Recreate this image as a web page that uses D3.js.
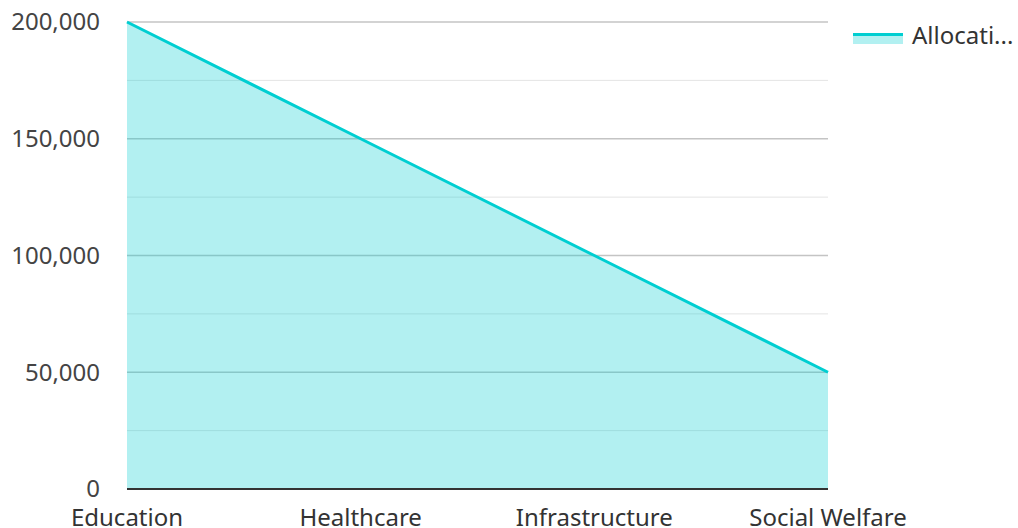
<!DOCTYPE html>
<html>
<head>
<meta charset="utf-8">
<script src="https://cdn.jsdelivr.net/npm/d3@7"></script>
<style>
  body { margin: 0; background: #fff; }
  svg { font-family: "Noto Sans", "Open Sans", sans-serif; }
</style>
</head>
<body>
<svg id="chart" width="1018" height="528"></svg>
<script>
const categories = ["Education", "Healthcare", "Infrastructure", "Social Welfare"];
const allocation = [200000, 150000, 100000, 50000];
const seriesName = "Allocation";
const yTicks = [0, 50000, 100000, 150000, 200000];

const width = 1018, height = 528;
const margin = { top: 22, right: 190, bottom: 39, left: 127 };
const color = "#00ced1";

const svg = d3.select("#chart");
const data = categories.map((c, i) => ({ cat: c, value: allocation[i] }));

const x = d3.scalePoint()
    .domain(categories)
    .range([margin.left, width - margin.right]);

const y = d3.scaleLinear()
    .domain([0, 200000])
    .range([height - margin.bottom, margin.top]);

// gridlines under the semi-transparent area
const grid = svg.append("g");
grid.selectAll("line.minor")
    .data(d3.range(25000, 200000, 50000))
    .enter().append("line")
    .attr("x1", margin.left).attr("x2", width - margin.right)
    .attr("y1", d => y(d)).attr("y2", d => y(d))
    .attr("stroke", "#e4e4e4").attr("stroke-width", 1);
grid.selectAll("line.major")
    .data(yTicks.slice(1))
    .enter().append("line")
    .attr("x1", margin.left).attr("x2", width - margin.right)
    .attr("y1", d => y(d)).attr("y2", d => y(d))
    .attr("stroke", "#c4c4c4").attr("stroke-width", 1.5);

const area = d3.area()
    .x(d => x(d.cat))
    .y0(y(0))
    .y1(d => y(d.value));

svg.append("path")
    .datum(data)
    .attr("fill", color)
    .attr("fill-opacity", 0.3)
    .attr("d", area);

svg.append("path")
    .datum(data)
    .attr("fill", "none")
    .attr("stroke", color)
    .attr("stroke-width", 3)
    .attr("d", d3.line().x(d => x(d.cat)).y(d => y(d.value)));

// y labels
svg.append("g")
    .selectAll("text")
    .data(yTicks)
    .enter().append("text")
    .attr("x", 100)
    .attr("y", d => y(d))
    .attr("dy", "0.35em")
    .attr("text-anchor", "end")
    .attr("fill", "#444")
    .style("font-size", "24px")
    .text(d => d3.format(",")(d));

// x axis line
svg.append("line")
    .attr("x1", margin.left).attr("x2", width - margin.right)
    .attr("y1", y(0)).attr("y2", y(0))
    .attr("stroke", "#333").attr("stroke-width", 2);

svg.append("g")
    .selectAll("text")
    .data(categories)
    .enter().append("text")
    .attr("x", d => x(d))
    .attr("y", 526)
    .attr("text-anchor", "middle")
    .attr("fill", "#333")
    .style("font-size", "24px")
    .text(d => d);

// legend
const lg = svg.append("g").attr("transform", "translate(853,33)");
lg.append("rect").attr("x", 0).attr("y", 1).attr("width", 50).attr("height", 10)
    .attr("fill", color).attr("fill-opacity", 0.3);
lg.append("line").attr("x1", 0).attr("x2", 50).attr("y1", 1.5).attr("y2", 1.5)
    .attr("stroke", color).attr("stroke-width", 3);
lg.append("text")
    .attr("x", 59).attr("y", 3)
    .attr("dy", "0.35em")
    .attr("fill", "#333")
    .style("font-size", "24px")
    .text(seriesName.slice(0, 8) + "...");
</script>
</body>
</html>
